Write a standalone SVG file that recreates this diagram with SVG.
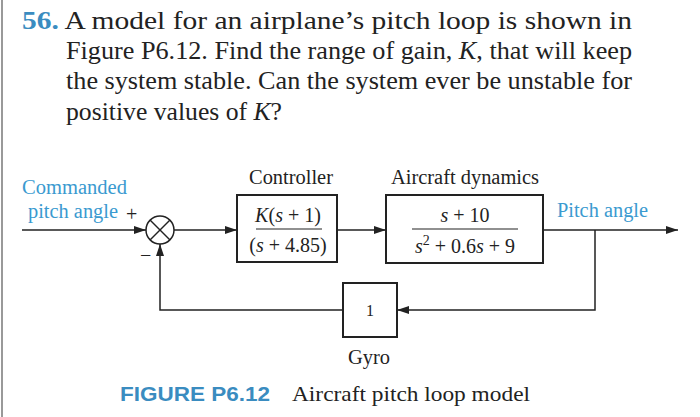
<svg xmlns="http://www.w3.org/2000/svg" width="700" height="417" viewBox="0 0 700 417">
<defs>
<marker id="ar" markerWidth="12" markerHeight="8" refX="12" refY="4" orient="auto" markerUnits="userSpaceOnUse"><path d="M0,0 L12,4 L0,8 Z" fill="#222"/></marker>
<style>
.t{font-family:"Liberation Serif",serif;fill:#222}
.b{font-family:"Liberation Serif",serif;fill:#3a9ad0}
.box{fill:#fff;stroke:#222;stroke-width:2}
.ln{fill:none;stroke:#222;stroke-width:1.5}
</style>
</defs>
<rect width="700" height="417" fill="#fff"/>
<line x1="2" y1="0" x2="2" y2="417" stroke="#999" stroke-width="2"/>
<g id="problem" class="t" font-size="26">
<text x="22" y="29" textLength="610" lengthAdjust="spacingAndGlyphs"><tspan font-weight="bold" fill="#3a8cc0">56.</tspan> A model for an airplane’s pitch loop is shown in</text>
<text x="66" y="59" textLength="566" lengthAdjust="spacingAndGlyphs">Figure P6.12. Find the range of gain, <tspan font-style="italic">K</tspan>, that will keep</text>
<text x="66" y="89" textLength="566" lengthAdjust="spacingAndGlyphs">the system stable. Can the system ever be unstable for</text>
<text x="66" y="120" textLength="216" lengthAdjust="spacingAndGlyphs">positive values of <tspan font-style="italic">K</tspan>?</text>
</g>
<g id="connectors" class="ln">
<line x1="22" y1="230" x2="146" y2="230" marker-end="url(#ar)"/>
<line x1="174" y1="230" x2="237" y2="230" marker-end="url(#ar)"/>
<line x1="337" y1="230" x2="386" y2="230" marker-end="url(#ar)"/>
<line x1="543" y1="230" x2="678" y2="230" marker-end="url(#ar)"/>
<polyline points="595,230 595,310 397,310" marker-end="url(#ar)"/>
<polyline points="343,310 160,310 160,244" marker-end="url(#ar)"/>
</g>
<g id="sum">
<circle cx="160" cy="230" r="14" fill="#fff" stroke="#222" stroke-width="1.5"/>
<line x1="150" y1="220" x2="170" y2="240" stroke="#222" stroke-width="1.5"/>
<line x1="170" y1="220" x2="150" y2="240" stroke="#222" stroke-width="1.5"/>
<text class="t" x="126" y="221" font-size="20">+</text>
<text class="t" x="140" y="262" font-size="20">−</text>
</g>
<g id="labels-in">
<text class="b" x="22" y="194" font-size="20" textLength="105" lengthAdjust="spacingAndGlyphs">Commanded</text>
<text class="b" x="28" y="218" font-size="20" textLength="90" lengthAdjust="spacingAndGlyphs">pitch angle</text>
</g>
<g id="controller">
<text class="t" x="249" y="184" font-size="20" textLength="84" lengthAdjust="spacingAndGlyphs">Controller</text>
<rect class="box" x="237" y="195" width="100" height="67"/>
<text class="t" x="288" y="222" font-size="20" text-anchor="middle"><tspan font-style="italic">K</tspan>(<tspan font-style="italic">s</tspan> + 1)</text>
<line x1="256" y1="229" x2="322" y2="229" stroke="#222" stroke-width="1.2"/>
<text class="t" x="288" y="252" font-size="20" text-anchor="middle">(<tspan font-style="italic">s</tspan> + 4.85)</text>
</g>
<g id="aircraft">
<text class="t" x="391" y="184" font-size="20" textLength="148" lengthAdjust="spacingAndGlyphs">Aircraft dynamics</text>
<rect class="box" x="386" y="195" width="157" height="68"/>
<text class="t" x="465" y="222" font-size="20" text-anchor="middle"><tspan font-style="italic">s</tspan> + 10</text>
<line x1="412" y1="229" x2="518" y2="229" stroke="#222" stroke-width="1.2"/>
<text class="t" x="465" y="253" font-size="20" text-anchor="middle"><tspan font-style="italic">s</tspan><tspan font-size="14" dy="-8">2</tspan><tspan dy="8"> + 0.6</tspan><tspan font-style="italic">s</tspan> + 9</text>
<text class="b" x="557" y="217" font-size="20" textLength="91" lengthAdjust="spacingAndGlyphs">Pitch angle</text>
</g>
<g id="gyro">
<rect class="box" x="343" y="283" width="54" height="54"/>
<text class="t" x="370" y="316" font-size="16" text-anchor="middle">1</text>
<text class="t" x="348" y="364" font-size="20" textLength="42" lengthAdjust="spacingAndGlyphs">Gyro</text>
</g>
<g id="caption">
<text x="120" y="401" font-family="'Liberation Sans',sans-serif" font-weight="bold" font-size="21" fill="#3a8cc0" textLength="150" lengthAdjust="spacingAndGlyphs">FIGURE P6.12</text>
<text class="t" x="292" y="401" font-size="22" textLength="238" lengthAdjust="spacingAndGlyphs">Aircraft pitch loop model</text>
</g>
</svg>
